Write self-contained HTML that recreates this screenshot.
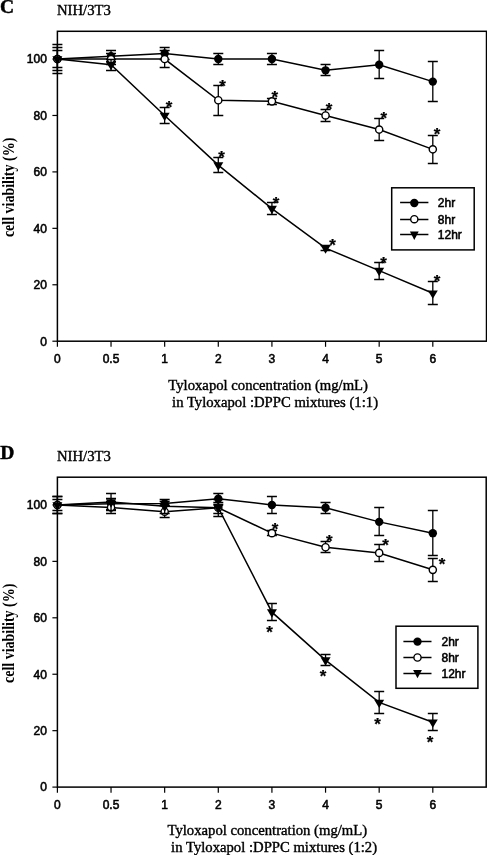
<!DOCTYPE html>
<html><head><meta charset="utf-8"><title>NIH/3T3 cell viability</title>
<style>
html,body{margin:0;padding:0;background:#fff;}
svg{display:block;}
.tk{font-family:"Liberation Sans",Arial,sans-serif;font-size:12px;fill:#000;stroke:#000;stroke-width:0.55px;}
.st{font-family:"Liberation Sans",Arial,sans-serif;font-size:17px;font-weight:bold;fill:#000;stroke:#000;stroke-width:0.25px;}
.pl{font-family:"Liberation Serif","Times New Roman",serif;font-size:19.5px;font-weight:bold;fill:#000;stroke:#000;stroke-width:0.5px;}
.nt{font-family:"Liberation Serif","Times New Roman",serif;font-size:14.7px;fill:#000;stroke:#000;stroke-width:0.4px;}
.xt{font-family:"Liberation Serif","Times New Roman",serif;font-size:14.7px;fill:#000;stroke:#000;stroke-width:0.4px;}
.yt{font-family:"Liberation Serif","Times New Roman",serif;font-size:14px;font-weight:bold;fill:#000;}
</style></head><body>
<svg width="487" height="855" viewBox="0 0 487 855">
<rect width="487" height="855" fill="#fff"/>
<rect x="57.4" y="31.30" width="429.10" height="309.90" fill="none" stroke="#000" stroke-width="1.5"/>
<line x1="52.4" y1="341.20" x2="57.4" y2="341.20" stroke="#000" stroke-width="1.2"/>
<text x="46.9" y="345.50" class="tk" text-anchor="end">0</text>
<line x1="52.4" y1="284.77" x2="57.4" y2="284.77" stroke="#000" stroke-width="1.2"/>
<text x="46.9" y="289.07" class="tk" text-anchor="end">20</text>
<line x1="52.4" y1="228.34" x2="57.4" y2="228.34" stroke="#000" stroke-width="1.2"/>
<text x="46.9" y="232.64" class="tk" text-anchor="end">40</text>
<line x1="52.4" y1="171.90" x2="57.4" y2="171.90" stroke="#000" stroke-width="1.2"/>
<text x="46.9" y="176.20" class="tk" text-anchor="end">60</text>
<line x1="52.4" y1="115.47" x2="57.4" y2="115.47" stroke="#000" stroke-width="1.2"/>
<text x="46.9" y="119.77" class="tk" text-anchor="end">80</text>
<line x1="52.4" y1="59.04" x2="57.4" y2="59.04" stroke="#000" stroke-width="1.2"/>
<text x="46.9" y="63.34" class="tk" text-anchor="end">100</text>
<line x1="57.40" y1="341.2" x2="57.40" y2="346.80" stroke="#000" stroke-width="1.2"/>
<text x="57.40" y="363.10" class="tk" text-anchor="middle">0</text>
<line x1="111.03" y1="341.2" x2="111.03" y2="346.80" stroke="#000" stroke-width="1.2"/>
<text x="111.03" y="363.10" class="tk" text-anchor="middle">0.5</text>
<line x1="164.66" y1="341.2" x2="164.66" y2="346.80" stroke="#000" stroke-width="1.2"/>
<text x="164.66" y="363.10" class="tk" text-anchor="middle">1</text>
<line x1="218.29" y1="341.2" x2="218.29" y2="346.80" stroke="#000" stroke-width="1.2"/>
<text x="218.29" y="363.10" class="tk" text-anchor="middle">2</text>
<line x1="271.92" y1="341.2" x2="271.92" y2="346.80" stroke="#000" stroke-width="1.2"/>
<text x="271.92" y="363.10" class="tk" text-anchor="middle">3</text>
<line x1="325.55" y1="341.2" x2="325.55" y2="346.80" stroke="#000" stroke-width="1.2"/>
<text x="325.55" y="363.10" class="tk" text-anchor="middle">4</text>
<line x1="379.18" y1="341.2" x2="379.18" y2="346.80" stroke="#000" stroke-width="1.2"/>
<text x="379.18" y="363.10" class="tk" text-anchor="middle">5</text>
<line x1="432.81" y1="341.2" x2="432.81" y2="346.80" stroke="#000" stroke-width="1.2"/>
<text x="432.81" y="363.10" class="tk" text-anchor="middle">6</text>
<polyline points="57.40,59.04 111.03,56.22 164.66,53.40 218.29,59.04 271.92,59.04 325.55,70.33 379.18,64.68 432.81,81.61" fill="none" stroke="#000" stroke-width="1.5"/>
<path d="M57.40 44.50V73.50M52.40 44.50H62.40M52.40 73.50H62.40" stroke="#000" stroke-width="1.3" fill="none"/>
<path d="M111.03 50.50V61.50M106.03 50.50H116.03M106.03 61.50H116.03" stroke="#000" stroke-width="1.3" fill="none"/>
<path d="M164.66 47.50V59.50M159.66 47.50H169.66M159.66 59.50H169.66" stroke="#000" stroke-width="1.3" fill="none"/>
<path d="M218.29 53.50V64.50M213.29 53.50H223.29M213.29 64.50H223.29" stroke="#000" stroke-width="1.3" fill="none"/>
<path d="M271.92 53.50V64.50M266.92 53.50H276.92M266.92 64.50H276.92" stroke="#000" stroke-width="1.3" fill="none"/>
<path d="M325.55 64.50V75.50M320.55 64.50H330.55M320.55 75.50H330.55" stroke="#000" stroke-width="1.3" fill="none"/>
<path d="M379.18 50.50V78.50M374.18 50.50H384.18M374.18 78.50H384.18" stroke="#000" stroke-width="1.3" fill="none"/>
<path d="M432.81 61.50V101.50M427.81 61.50H437.81M427.81 101.50H437.81" stroke="#000" stroke-width="1.3" fill="none"/>
<circle cx="57.40" cy="59.04" r="4.2" fill="#000"/>
<circle cx="111.03" cy="56.22" r="4.2" fill="#000"/>
<circle cx="164.66" cy="53.40" r="4.2" fill="#000"/>
<circle cx="218.29" cy="59.04" r="4.2" fill="#000"/>
<circle cx="271.92" cy="59.04" r="4.2" fill="#000"/>
<circle cx="325.55" cy="70.33" r="4.2" fill="#000"/>
<circle cx="379.18" cy="64.68" r="4.2" fill="#000"/>
<circle cx="432.81" cy="81.61" r="4.2" fill="#000"/>
<polyline points="57.40,59.04 111.03,59.04 164.66,59.04 218.29,100.24 271.92,101.36 325.55,115.47 379.18,129.58 432.81,149.33" fill="none" stroke="#000" stroke-width="1.5"/>
<path d="M57.40 47.50V70.50M52.40 47.50H62.40M52.40 70.50H62.40" stroke="#000" stroke-width="1.3" fill="none"/>
<path d="M111.03 53.50V64.50M106.03 53.50H116.03M106.03 64.50H116.03" stroke="#000" stroke-width="1.3" fill="none"/>
<path d="M164.66 50.50V67.50M159.66 50.50H169.66M159.66 67.50H169.66" stroke="#000" stroke-width="1.3" fill="none"/>
<path d="M218.29 85.50V115.50M213.29 85.50H223.29M213.29 115.50H223.29" stroke="#000" stroke-width="1.3" fill="none"/>
<path d="M271.92 98.50V104.50M266.92 98.50H276.92M266.92 104.50H276.92" stroke="#000" stroke-width="1.3" fill="none"/>
<path d="M325.55 109.50V121.50M320.55 109.50H330.55M320.55 121.50H330.55" stroke="#000" stroke-width="1.3" fill="none"/>
<path d="M379.18 118.50V140.50M374.18 118.50H384.18M374.18 140.50H384.18" stroke="#000" stroke-width="1.3" fill="none"/>
<path d="M432.81 135.50V163.50M427.81 135.50H437.81M427.81 163.50H437.81" stroke="#000" stroke-width="1.3" fill="none"/>
<circle cx="57.40" cy="59.04" r="3.6" fill="#fff" stroke="#000" stroke-width="1.4"/>
<circle cx="111.03" cy="59.04" r="3.6" fill="#fff" stroke="#000" stroke-width="1.4"/>
<circle cx="164.66" cy="59.04" r="3.6" fill="#fff" stroke="#000" stroke-width="1.4"/>
<circle cx="218.29" cy="100.24" r="3.6" fill="#fff" stroke="#000" stroke-width="1.4"/>
<circle cx="271.92" cy="101.36" r="3.6" fill="#fff" stroke="#000" stroke-width="1.4"/>
<circle cx="325.55" cy="115.47" r="3.6" fill="#fff" stroke="#000" stroke-width="1.4"/>
<circle cx="379.18" cy="129.58" r="3.6" fill="#fff" stroke="#000" stroke-width="1.4"/>
<circle cx="432.81" cy="149.33" r="3.6" fill="#fff" stroke="#000" stroke-width="1.4"/>
<polyline points="57.40,59.04 111.03,64.68 164.66,115.47 218.29,165.13 271.92,208.58 325.55,248.09 379.18,270.66 432.81,293.23" fill="none" stroke="#000" stroke-width="1.5"/>
<path d="M57.40 50.50V67.50M52.40 50.50H62.40M52.40 67.50H62.40" stroke="#000" stroke-width="1.3" fill="none"/>
<path d="M111.03 59.50V70.50M106.03 59.50H116.03M106.03 70.50H116.03" stroke="#000" stroke-width="1.3" fill="none"/>
<path d="M164.66 107.50V123.50M159.66 107.50H169.66M159.66 123.50H169.66" stroke="#000" stroke-width="1.3" fill="none"/>
<path d="M218.29 157.50V172.50M213.29 157.50H223.29M213.29 172.50H223.29" stroke="#000" stroke-width="1.3" fill="none"/>
<path d="M271.92 202.50V214.50M266.92 202.50H276.92M266.92 214.50H276.92" stroke="#000" stroke-width="1.3" fill="none"/>
<path d="M325.55 245.50V250.50M320.55 245.50H330.55M320.55 250.50H330.55" stroke="#000" stroke-width="1.3" fill="none"/>
<path d="M379.18 262.50V279.50M374.18 262.50H384.18M374.18 279.50H384.18" stroke="#000" stroke-width="1.3" fill="none"/>
<path d="M432.81 281.50V304.50M427.81 281.50H437.81M427.81 304.50H437.81" stroke="#000" stroke-width="1.3" fill="none"/>
<path d="M52.40 56.24L62.40 56.24L57.40 64.64Z" fill="#000"/>
<path d="M106.03 61.88L116.03 61.88L111.03 70.28Z" fill="#000"/>
<path d="M159.66 112.67L169.66 112.67L164.66 121.07Z" fill="#000"/>
<path d="M213.29 162.33L223.29 162.33L218.29 170.73Z" fill="#000"/>
<path d="M266.92 205.78L276.92 205.78L271.92 214.18Z" fill="#000"/>
<path d="M320.55 245.29L330.55 245.29L325.55 253.69Z" fill="#000"/>
<path d="M374.18 267.86L384.18 267.86L379.18 276.26Z" fill="#000"/>
<path d="M427.81 290.43L437.81 290.43L432.81 298.83Z" fill="#000"/>
<text x="169.05" y="113.20" class="st" text-anchor="middle">*</text>
<text x="222.65" y="91.50" class="st" text-anchor="middle">*</text>
<text x="221.65" y="163.20" class="st" text-anchor="middle">*</text>
<text x="274.75" y="103.00" class="st" text-anchor="middle">*</text>
<text x="275.95" y="209.00" class="st" text-anchor="middle">*</text>
<text x="329.15" y="114.60" class="st" text-anchor="middle">*</text>
<text x="332.45" y="250.60" class="st" text-anchor="middle">*</text>
<text x="383.85" y="123.80" class="st" text-anchor="middle">*</text>
<text x="383.65" y="268.60" class="st" text-anchor="middle">*</text>
<text x="436.95" y="139.70" class="st" text-anchor="middle">*</text>
<text x="436.95" y="286.50" class="st" text-anchor="middle">*</text>
<rect x="391.7" y="187.8" width="82.50" height="62.10" fill="#fff" stroke="#000" stroke-width="1.5"/>
<line x1="400.1" y1="202.5" x2="428.4" y2="202.5" stroke="#000" stroke-width="1.5"/>
<circle cx="414.30" cy="203.00" r="4.2" fill="#000"/>
<text x="437.8" y="207.30" class="tk">2hr</text>
<line x1="400.1" y1="219.5" x2="428.4" y2="219.5" stroke="#000" stroke-width="1.5"/>
<circle cx="414.30" cy="219.20" r="3.6" fill="#fff" stroke="#000" stroke-width="1.4"/>
<text x="437.8" y="223.50" class="tk">8hr</text>
<line x1="400.1" y1="234.5" x2="428.4" y2="234.5" stroke="#000" stroke-width="1.5"/>
<path d="M409.90 231.60L418.70 231.60L414.30 239.90Z" fill="#000"/>
<text x="437.8" y="239.20" class="tk">12hr</text>
<text x="0.0" y="13.10" class="pl">C</text>
<text x="57" y="14.70" class="nt">NIH/3T3</text>
<text x="268.15" y="389.7" class="xt" text-anchor="middle">Tyloxapol concentration (mg/mL)</text>
<text x="275.05" y="406.8" class="xt" text-anchor="middle">in Tyloxapol :DPPC mixtures (1:1)</text>
<text transform="translate(13.5 187.40) rotate(-90) scale(1 1.17)" class="yt" text-anchor="middle">cell viability (%)</text>
<rect x="57.4" y="477.20" width="428.80" height="309.90" fill="none" stroke="#000" stroke-width="1.5"/>
<line x1="52.4" y1="787.10" x2="57.4" y2="787.10" stroke="#000" stroke-width="1.2"/>
<text x="46.9" y="791.40" class="tk" text-anchor="end">0</text>
<line x1="52.4" y1="730.67" x2="57.4" y2="730.67" stroke="#000" stroke-width="1.2"/>
<text x="46.9" y="734.97" class="tk" text-anchor="end">20</text>
<line x1="52.4" y1="674.24" x2="57.4" y2="674.24" stroke="#000" stroke-width="1.2"/>
<text x="46.9" y="678.54" class="tk" text-anchor="end">40</text>
<line x1="52.4" y1="617.80" x2="57.4" y2="617.80" stroke="#000" stroke-width="1.2"/>
<text x="46.9" y="622.10" class="tk" text-anchor="end">60</text>
<line x1="52.4" y1="561.37" x2="57.4" y2="561.37" stroke="#000" stroke-width="1.2"/>
<text x="46.9" y="565.67" class="tk" text-anchor="end">80</text>
<line x1="52.4" y1="504.94" x2="57.4" y2="504.94" stroke="#000" stroke-width="1.2"/>
<text x="46.9" y="509.24" class="tk" text-anchor="end">100</text>
<line x1="57.40" y1="787.0999999999999" x2="57.40" y2="792.70" stroke="#000" stroke-width="1.2"/>
<text x="57.40" y="809.00" class="tk" text-anchor="middle">0</text>
<line x1="111.03" y1="787.0999999999999" x2="111.03" y2="792.70" stroke="#000" stroke-width="1.2"/>
<text x="111.03" y="809.00" class="tk" text-anchor="middle">0.5</text>
<line x1="164.66" y1="787.0999999999999" x2="164.66" y2="792.70" stroke="#000" stroke-width="1.2"/>
<text x="164.66" y="809.00" class="tk" text-anchor="middle">1</text>
<line x1="218.29" y1="787.0999999999999" x2="218.29" y2="792.70" stroke="#000" stroke-width="1.2"/>
<text x="218.29" y="809.00" class="tk" text-anchor="middle">2</text>
<line x1="271.92" y1="787.0999999999999" x2="271.92" y2="792.70" stroke="#000" stroke-width="1.2"/>
<text x="271.92" y="809.00" class="tk" text-anchor="middle">3</text>
<line x1="325.55" y1="787.0999999999999" x2="325.55" y2="792.70" stroke="#000" stroke-width="1.2"/>
<text x="325.55" y="809.00" class="tk" text-anchor="middle">4</text>
<line x1="379.18" y1="787.0999999999999" x2="379.18" y2="792.70" stroke="#000" stroke-width="1.2"/>
<text x="379.18" y="809.00" class="tk" text-anchor="middle">5</text>
<line x1="432.81" y1="787.0999999999999" x2="432.81" y2="792.70" stroke="#000" stroke-width="1.2"/>
<text x="432.81" y="809.00" class="tk" text-anchor="middle">6</text>
<polyline points="57.40,504.94 111.03,503.81 164.66,503.53 218.29,498.73 271.92,504.94 325.55,507.76 379.18,521.87 432.81,533.16" fill="none" stroke="#000" stroke-width="1.5"/>
<path d="M57.40 496.50V513.50M52.40 496.50H62.40M52.40 513.50H62.40" stroke="#000" stroke-width="1.3" fill="none"/>
<path d="M111.03 498.50V509.50M106.03 498.50H116.03M106.03 509.50H116.03" stroke="#000" stroke-width="1.3" fill="none"/>
<path d="M164.66 501.50V505.50M159.66 501.50H169.66M159.66 505.50H169.66" stroke="#000" stroke-width="1.3" fill="none"/>
<path d="M218.29 493.50V504.50M213.29 493.50H223.29M213.29 504.50H223.29" stroke="#000" stroke-width="1.3" fill="none"/>
<path d="M271.92 496.50V513.50M266.92 496.50H276.92M266.92 513.50H276.92" stroke="#000" stroke-width="1.3" fill="none"/>
<path d="M325.55 502.50V513.50M320.55 502.50H330.55M320.55 513.50H330.55" stroke="#000" stroke-width="1.3" fill="none"/>
<path d="M379.18 507.50V535.50M374.18 507.50H384.18M374.18 535.50H384.18" stroke="#000" stroke-width="1.3" fill="none"/>
<path d="M432.81 510.50V555.50M427.81 510.50H437.81M427.81 555.50H437.81" stroke="#000" stroke-width="1.3" fill="none"/>
<circle cx="57.40" cy="504.94" r="4.2" fill="#000"/>
<circle cx="111.03" cy="503.81" r="4.2" fill="#000"/>
<circle cx="164.66" cy="503.53" r="4.2" fill="#000"/>
<circle cx="218.29" cy="498.73" r="4.2" fill="#000"/>
<circle cx="271.92" cy="504.94" r="4.2" fill="#000"/>
<circle cx="325.55" cy="507.76" r="4.2" fill="#000"/>
<circle cx="379.18" cy="521.87" r="4.2" fill="#000"/>
<circle cx="432.81" cy="533.16" r="4.2" fill="#000"/>
<polyline points="57.40,504.94 111.03,507.48 164.66,511.71 218.29,507.76 271.92,533.16 325.55,547.26 379.18,552.91 432.81,569.84" fill="none" stroke="#000" stroke-width="1.5"/>
<path d="M57.40 499.50V510.50M52.40 499.50H62.40M52.40 510.50H62.40" stroke="#000" stroke-width="1.3" fill="none"/>
<path d="M111.03 501.50V513.50M106.03 501.50H116.03M106.03 513.50H116.03" stroke="#000" stroke-width="1.3" fill="none"/>
<path d="M164.66 505.50V517.50M159.66 505.50H169.66M159.66 517.50H169.66" stroke="#000" stroke-width="1.3" fill="none"/>
<path d="M218.29 502.50V513.50M213.29 502.50H223.29M213.29 513.50H223.29" stroke="#000" stroke-width="1.3" fill="none"/>
<path d="M271.92 530.50V535.50M266.92 530.50H276.92M266.92 535.50H276.92" stroke="#000" stroke-width="1.3" fill="none"/>
<path d="M325.55 541.50V552.50M320.55 541.50H330.55M320.55 552.50H330.55" stroke="#000" stroke-width="1.3" fill="none"/>
<path d="M379.18 544.50V561.50M374.18 544.50H384.18M374.18 561.50H384.18" stroke="#000" stroke-width="1.3" fill="none"/>
<path d="M432.81 558.50V581.50M427.81 558.50H437.81M427.81 581.50H437.81" stroke="#000" stroke-width="1.3" fill="none"/>
<circle cx="57.40" cy="504.94" r="3.6" fill="#fff" stroke="#000" stroke-width="1.4"/>
<circle cx="111.03" cy="507.48" r="3.6" fill="#fff" stroke="#000" stroke-width="1.4"/>
<circle cx="164.66" cy="511.71" r="3.6" fill="#fff" stroke="#000" stroke-width="1.4"/>
<circle cx="218.29" cy="507.76" r="3.6" fill="#fff" stroke="#000" stroke-width="1.4"/>
<circle cx="271.92" cy="533.16" r="3.6" fill="#fff" stroke="#000" stroke-width="1.4"/>
<circle cx="325.55" cy="547.26" r="3.6" fill="#fff" stroke="#000" stroke-width="1.4"/>
<circle cx="379.18" cy="552.91" r="3.6" fill="#fff" stroke="#000" stroke-width="1.4"/>
<circle cx="432.81" cy="569.84" r="3.6" fill="#fff" stroke="#000" stroke-width="1.4"/>
<polyline points="57.40,504.94 111.03,502.12 164.66,506.35 218.29,507.76 271.92,612.16 325.55,660.13 379.18,702.45 432.81,722.20" fill="none" stroke="#000" stroke-width="1.5"/>
<path d="M57.40 496.50V513.50M52.40 496.50H62.40M52.40 513.50H62.40" stroke="#000" stroke-width="1.3" fill="none"/>
<path d="M111.03 493.50V510.50M106.03 493.50H116.03M106.03 510.50H116.03" stroke="#000" stroke-width="1.3" fill="none"/>
<path d="M164.66 499.50V513.50M159.66 499.50H169.66M159.66 513.50H169.66" stroke="#000" stroke-width="1.3" fill="none"/>
<path d="M218.29 499.50V516.50M213.29 499.50H223.29M213.29 516.50H223.29" stroke="#000" stroke-width="1.3" fill="none"/>
<path d="M271.92 603.50V620.50M266.92 603.50H276.92M266.92 620.50H276.92" stroke="#000" stroke-width="1.3" fill="none"/>
<path d="M325.55 654.50V665.50M320.55 654.50H330.55M320.55 665.50H330.55" stroke="#000" stroke-width="1.3" fill="none"/>
<path d="M379.18 691.50V713.50M374.18 691.50H384.18M374.18 713.50H384.18" stroke="#000" stroke-width="1.3" fill="none"/>
<path d="M432.81 713.50V730.50M427.81 713.50H437.81M427.81 730.50H437.81" stroke="#000" stroke-width="1.3" fill="none"/>
<path d="M52.40 502.14L62.40 502.14L57.40 510.54Z" fill="#000"/>
<path d="M106.03 499.32L116.03 499.32L111.03 507.72Z" fill="#000"/>
<path d="M159.66 503.55L169.66 503.55L164.66 511.95Z" fill="#000"/>
<path d="M213.29 504.96L223.29 504.96L218.29 513.36Z" fill="#000"/>
<path d="M266.92 609.36L276.92 609.36L271.92 617.76Z" fill="#000"/>
<path d="M320.55 657.33L330.55 657.33L325.55 665.73Z" fill="#000"/>
<path d="M374.18 699.65L384.18 699.65L379.18 708.05Z" fill="#000"/>
<path d="M427.81 719.40L437.81 719.40L432.81 727.80Z" fill="#000"/>
<text x="274.95" y="535.20" class="st" text-anchor="middle">*</text>
<text x="269.55" y="637.50" class="st" text-anchor="middle">*</text>
<text x="329.35" y="547.30" class="st" text-anchor="middle">*</text>
<text x="323.15" y="681.80" class="st" text-anchor="middle">*</text>
<text x="385.45" y="551.00" class="st" text-anchor="middle">*</text>
<text x="377.65" y="730.00" class="st" text-anchor="middle">*</text>
<text x="442.15" y="570.20" class="st" text-anchor="middle">*</text>
<text x="430.15" y="747.50" class="st" text-anchor="middle">*</text>
<rect x="396.0" y="626.2" width="81.90" height="62.10" fill="#fff" stroke="#000" stroke-width="1.5"/>
<line x1="403.4" y1="641.5" x2="431.5" y2="641.5" stroke="#000" stroke-width="1.5"/>
<circle cx="417.50" cy="641.60" r="4.2" fill="#000"/>
<text x="441.5" y="645.90" class="tk">2hr</text>
<line x1="403.4" y1="657.5" x2="431.5" y2="657.5" stroke="#000" stroke-width="1.5"/>
<circle cx="417.50" cy="657.50" r="3.6" fill="#fff" stroke="#000" stroke-width="1.4"/>
<text x="441.5" y="661.80" class="tk">8hr</text>
<line x1="403.4" y1="673.5" x2="431.5" y2="673.5" stroke="#000" stroke-width="1.5"/>
<path d="M413.10 669.90L421.90 669.90L417.50 678.20Z" fill="#000"/>
<text x="441.5" y="677.50" class="tk">12hr</text>
<text x="0.2" y="459.30" class="pl">D</text>
<text x="57" y="460.60" class="nt">NIH/3T3</text>
<text x="267.3" y="835.4" class="xt" text-anchor="middle">Tyloxapol concentration (mg/mL)</text>
<text x="274.1" y="851.9" class="xt" text-anchor="middle">in Tyloxapol :DPPC mixtures (1:2)</text>
<text transform="translate(13.5 633.30) rotate(-90) scale(1 1.17)" class="yt" text-anchor="middle">cell viability (%)</text>
</svg>
</body></html>
